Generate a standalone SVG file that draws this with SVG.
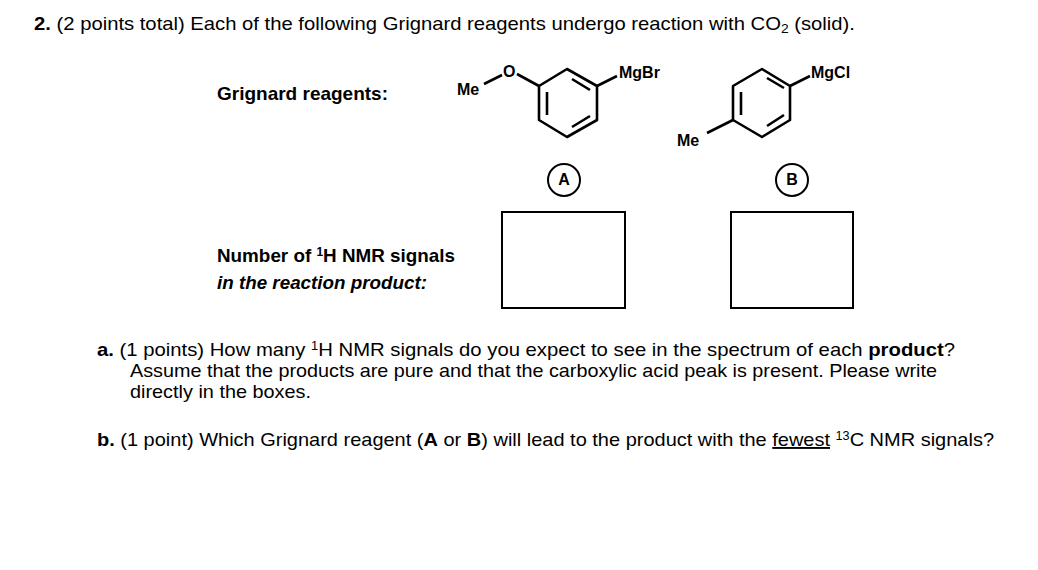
<svg xmlns="http://www.w3.org/2000/svg" width="1038" height="570" viewBox="0 0 1038 570">
<style>
text{font-family:"Liberation Sans",Arial,sans-serif;font-size:19px;fill:#000}
.b{font-weight:bold}
.s{font-size:16px;font-weight:bold}
.bond{stroke:#000;stroke-width:2.6;fill:none;stroke-linejoin:round}
</style>
<rect width="1038" height="570" fill="#fff"/>
<text x="34" y="30" textLength="821" lengthAdjust="spacingAndGlyphs"><tspan class="b">2.</tspan>  (2 points total) Each of the following Grignard reagents undergo reaction with CO<tspan font-size="13" dy="3">2</tspan><tspan dy="-3"> (solid).</tspan></text>
<text x="217" y="100" class="b" font-size="17" textLength="171" lengthAdjust="spacingAndGlyphs">Grignard reagents:</text>
<g id="A">
<polygon class="bond" points="567,69 597,86 597,120 567,137 539,120 539,86"/>
<path class="bond" d="M547,92V115M572,79L590,90M572,127L590,116M539,86L517,74M502,75L484,84M597,86L617,76"/>
<text x="503" y="77" class="s">O</text>
<text x="457" y="95" class="s">Me</text>
<text x="619" y="78" class="s">MgBr</text>
<circle cx="564" cy="180" r="16" fill="none" stroke="#000" stroke-width="2"/>
<text x="564" y="185" class="s" font-size="14" text-anchor="middle">A</text>
</g>
<g id="B">
<polygon class="bond" points="762,69 790,86 790,120 762,137 733,120 733,86"/>
<path class="bond" d="M741,92V115M767,78L784,88M784,115L767,126M733,120L707,133M790,86L810,76"/>
<text x="677" y="146" class="s">Me</text>
<text x="811" y="78" class="s">MgCl</text>
<circle cx="792" cy="180" r="16" fill="none" stroke="#000" stroke-width="2"/>
<text x="792" y="185" class="s" font-size="14" text-anchor="middle">B</text>
</g>
<rect x="502" y="212" width="123" height="96" fill="none" stroke="#000" stroke-width="2"/>
<rect x="731" y="212" width="122" height="96" fill="none" stroke="#000" stroke-width="2"/>
<text x="217" y="262" class="b" font-size="17" textLength="238" lengthAdjust="spacingAndGlyphs">Number of <tspan font-size="12" dy="-6">1</tspan><tspan dy="6">H NMR signals</tspan></text>
<text x="217" y="289" class="b" font-size="17" font-style="italic" textLength="210" lengthAdjust="spacingAndGlyphs">in the reaction product:</text>
<text x="97" y="356" textLength="858" lengthAdjust="spacingAndGlyphs"><tspan class="b">a.</tspan>  (1 points) How many <tspan font-size="12" dy="-6">1</tspan><tspan dy="6">H NMR signals do you expect to see in the spectrum of each </tspan><tspan class="b">product</tspan>?</text>
<text x="130" y="377" textLength="807" lengthAdjust="spacingAndGlyphs">Assume that the products are pure and that the carboxylic acid peak is present. Please write</text>
<text x="130" y="398" textLength="181" lengthAdjust="spacingAndGlyphs">directly in the boxes.</text>
<text x="97" y="446" textLength="897" lengthAdjust="spacingAndGlyphs"><tspan class="b">b.</tspan>  (1 point) Which Grignard reagent (<tspan class="b">A</tspan> or <tspan class="b">B</tspan>) will lead to the product with the <tspan text-decoration="underline">fewest</tspan> <tspan font-size="12" dy="-6">13</tspan><tspan dy="6">C NMR signals?</tspan></text>
</svg>
